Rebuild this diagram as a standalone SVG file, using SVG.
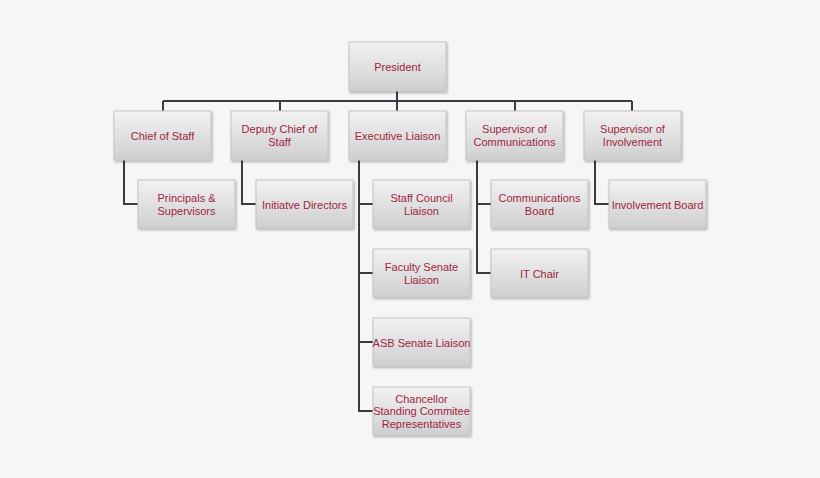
<svg xmlns="http://www.w3.org/2000/svg" width="820" height="478" viewBox="0 0 820 478">
<defs>
<linearGradient id="g" x1="0" y1="0" x2="0" y2="1"><stop offset="0" stop-color="#f2f2f2"/><stop offset="1" stop-color="#cfcfd0"/></linearGradient>
<filter id="s" x="-10%" y="-10%" width="130%" height="140%"><feDropShadow dx="1" dy="1.5" stdDeviation="1" flood-color="#000" flood-opacity="0.3"/></filter>
</defs>
<style>
.b{fill:url(#g);stroke:#c4c4c4;stroke-width:1;filter:url(#s)}
.t{font-family:"Liberation Sans",Arial,sans-serif;font-size:11px;fill:#a11f40;text-anchor:middle}
.c{fill:none;stroke:#383b44;stroke-width:2}
</style>
<rect width="820" height="478" fill="#f6f6f6"/>
<g id="connectors">
<path class="c" d="M397 91V101M163 101H632M163 101V111M280 101V111M397 101V111M515 101V111M632 101V111"/>
<path class="c" d="M124 160V204H138M242 160V204H256M359 160V411H373M359 204H373M359 273H373M359 342H373M477 160V273H491M477 204H491M595 160V204H609"/>
</g>
<g id="president"><rect class="b" x="349" y="42" width="97" height="49"/><text class="t" x="397.5" y="70.5">President</text></g>
<g id="chief"><rect class="b" x="114" y="111" width="97" height="49"/><text class="t" x="162.5" y="139.5">Chief of Staff</text></g>
<g id="deputy"><rect class="b" x="231" y="111" width="97" height="49"/><text class="t" x="279.5" y="133">Deputy Chief of</text><text class="t" x="279.5" y="146">Staff</text></g>
<g id="exec"><rect class="b" x="349" y="111" width="97" height="49"/><text class="t" x="397.5" y="139.5">Executive Liaison</text></g>
<g id="supcomm"><rect class="b" x="466" y="111" width="97" height="49"/><text class="t" x="514.5" y="133">Supervisor of</text><text class="t" x="514.5" y="146">Communications</text></g>
<g id="supinv"><rect class="b" x="584" y="111" width="97" height="49"/><text class="t" x="632.5" y="133">Supervisor of</text><text class="t" x="632.5" y="146">Involvement</text></g>
<g id="principals"><rect class="b" x="138" y="180" width="97" height="48"/><text class="t" x="186.5" y="202">Principals &amp;</text><text class="t" x="186.5" y="215">Supervisors</text></g>
<g id="initiative"><rect class="b" x="256" y="180" width="97" height="48"/><text class="t" x="304.5" y="208.5">Initiatve Directors</text></g>
<g id="staffcouncil"><rect class="b" x="373" y="180" width="97" height="48"/><text class="t" x="421.5" y="202">Staff Council</text><text class="t" x="421.5" y="215">Liaison</text></g>
<g id="commboard"><rect class="b" x="491" y="180" width="97" height="48"/><text class="t" x="539.5" y="202">Communications</text><text class="t" x="539.5" y="215">Board</text></g>
<g id="invboard"><rect class="b" x="609" y="180" width="97" height="48"/><text class="t" x="657.5" y="208.5">Involvement Board</text></g>
<g id="faculty"><rect class="b" x="373" y="249" width="97" height="48"/><text class="t" x="421.5" y="271">Faculty Senate</text><text class="t" x="421.5" y="284">Liaison</text></g>
<g id="itchair"><rect class="b" x="491" y="249" width="97" height="48"/><text class="t" x="539.5" y="277.5">IT Chair</text></g>
<g id="asb"><rect class="b" x="373" y="318" width="97" height="48"/><text class="t" x="421.5" y="346.5">ASB Senate Liaison</text></g>
<g id="chancellor"><rect class="b" x="373" y="387" width="97" height="48"/><text class="t" x="421.5" y="402.5">Chancellor</text><text class="t" x="421.5" y="415">Standing Commitee</text><text class="t" x="421.5" y="427.5">Representatives</text></g>
</svg>
